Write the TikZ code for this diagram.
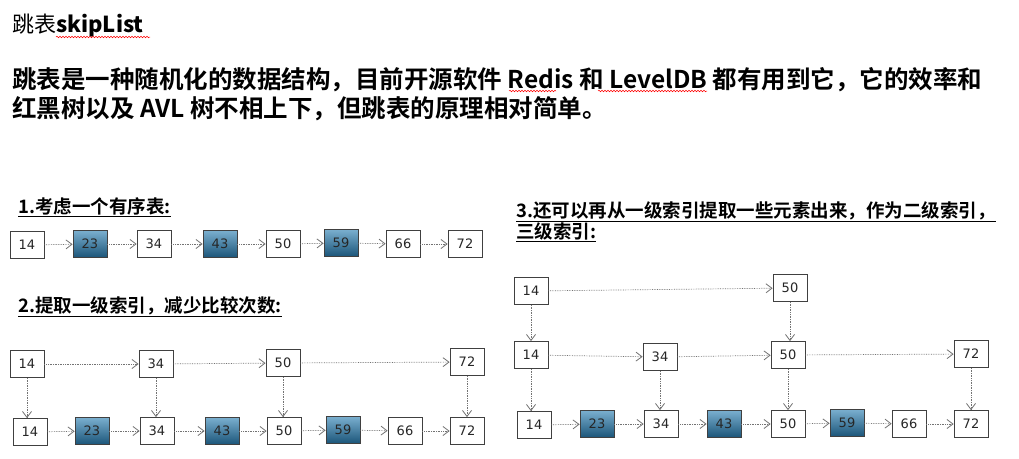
\documentclass[tikz,border=0pt]{standalone}
\usepackage{fontspec}
\setmainfont{DejaVu Sans}
\newfontfamily\cjk{Noto Sans CJK SC}
\newfontfamily\cjkb{Noto Sans CJK SC Bold}
\usetikzlibrary{arrows.meta,decorations.pathmorphing}
\definecolor{btop}{HTML}{7AAFCF}
\definecolor{bbot}{HTML}{1B5579}
\begin{document}
\begin{tikzpicture}[x=1pt,y=-1pt,
  bx/.style={draw=black!75,line width=0.8pt,fill=white,minimum width=34pt,minimum height=27pt,inner sep=0pt,font=\fontsize{13}{13}\selectfont,text=black!85},
  bb/.style={bx,top color=btop,bottom color=bbot,shading angle=0},
  ar/.style={densely dotted,draw=black!55,line width=0.7pt,-{Straight Barb[length=6pt,width=9pt,line width=0.8pt]}},
  hd/.style={anchor=west,font=\cjkb\fontsize{18.5}{21}\selectfont,inner sep=0pt},
  sq/.style={red,decorate,decoration={snake,amplitude=0.8pt,segment length=3pt},line width=0.5pt}]
\useasboundingbox (0,0) rectangle (1019,458);
\fill[white] (0,0) rectangle (1019,458);
\node[anchor=west,inner sep=0pt,font=\fontsize{22}{26}\selectfont] (title) at (12,26) {\cjk 跳表\textbf{skipList}};
\draw[sq] (56,37) -- (150,37);
\node[anchor=west,inner sep=0pt,font=\cjkb\fontsize{24.5}{29}\selectfont,align=left] (para) at (12,94) {跳表是一种随机化的数据结构，目前开源软件 Redis 和 LevelDB 都有用到它，它的效率和\\红黑树以及 AVL 树不相上下，但跳表的原理相对简单。};
\draw[sq] (509,91) -- (556,91);
\draw[sq] (598,91) -- (707,91);
% headings
\node[hd] (h1) at (18,207) {\underline{1.考虑一个有序表:}};
\node[hd] (h2) at (18,307) {\underline{2.提取一级索引，减少比较次数:}};
\node[hd,align=left] (h3) at (516,222) {\underline{3.还可以再从一级索引提取一些元素出来，作为二级索引，}\\\underline{三级索引:}};
% section 1
\node[bx] (a1) at (27,245) {14};
\node[bb] (a2) at (90,244) {23};
\node[bx] (a3) at (154,244) {34};
\node[bb] (a4) at (220,244) {43};
\node[bx] (a5) at (283,244) {50};
\node[bb] (a6) at (341,243) {59};
\node[bx] (a7) at (403,244) {66};
\node[bx] (a8) at (465,244) {72};
\foreach \i/\j in {1/2,2/3,3/4,4/5,5/6,6/7,7/8} \draw[ar] (a\i) -- (a\j);
% section 2
\node[bx] (b1) at (27,364) {14};
\node[bx] (b3) at (156,364) {34};
\node[bx] (b5) at (283,363) {50};
\node[bx] (b8) at (467,362) {72};
\node[bx] (c1) at (30,432) {14};
\node[bb] (c2) at (92,431) {23};
\node[bx] (c3) at (157,431) {34};
\node[bb] (c4) at (222,431) {43};
\node[bx] (c5) at (284,431) {50};
\node[bb] (c6) at (343,430) {59};
\node[bx] (c7) at (405,431) {66};
\node[bx] (c8) at (467,431) {72};
\draw[ar] (b1) -- (b3); \draw[ar] (b3) -- (b5); \draw[ar] (b5) -- (b8);
\foreach \i/\j in {1/2,2/3,3/4,4/5,5/6,6/7,7/8} \draw[ar] (c\i) -- (c\j);
\draw[ar] (b1) -- (b1|-c1.north); \draw[ar] (b3) -- (b3|-c3.north);
\draw[ar] (b5) -- (b5|-c5.north); \draw[ar] (b8) -- (b8|-c8.north);
% section 3
\node[bx] (d1) at (531,291) {14};
\node[bx] (d5) at (790,288) {50};
\node[bx] (e1) at (531,355) {14};
\node[bx] (e3) at (660,357) {34};
\node[bx] (e5) at (788,355) {50};
\node[bx] (e8) at (971,354) {72};
\node[bx] (f1) at (534,425) {14};
\node[bb] (f2) at (597,424) {23};
\node[bx] (f3) at (661,424) {34};
\node[bb] (f4) at (724,424) {43};
\node[bx] (f5) at (788,424) {50};
\node[bb] (f6) at (847,423) {59};
\node[bx] (f7) at (909,424) {66};
\node[bx] (f8) at (971,424) {72};
\draw[ar] (d1) -- (d5);
\draw[ar] (e1) -- (e3); \draw[ar] (e3) -- (e5); \draw[ar] (e5) -- (e8);
\foreach \i/\j in {1/2,2/3,3/4,4/5,5/6,6/7,7/8} \draw[ar] (f\i) -- (f\j);
\draw[ar] (d1) -- (d1|-e1.north); \draw[ar] (d5) -- (d5|-e5.north);
\draw[ar] (e1) -- (e1|-f1.north); \draw[ar] (e3) -- (e3|-f3.north);
\draw[ar] (e5) -- (e5|-f5.north); \draw[ar] (e8) -- (e8|-f8.north);
\end{tikzpicture}
\end{document}
